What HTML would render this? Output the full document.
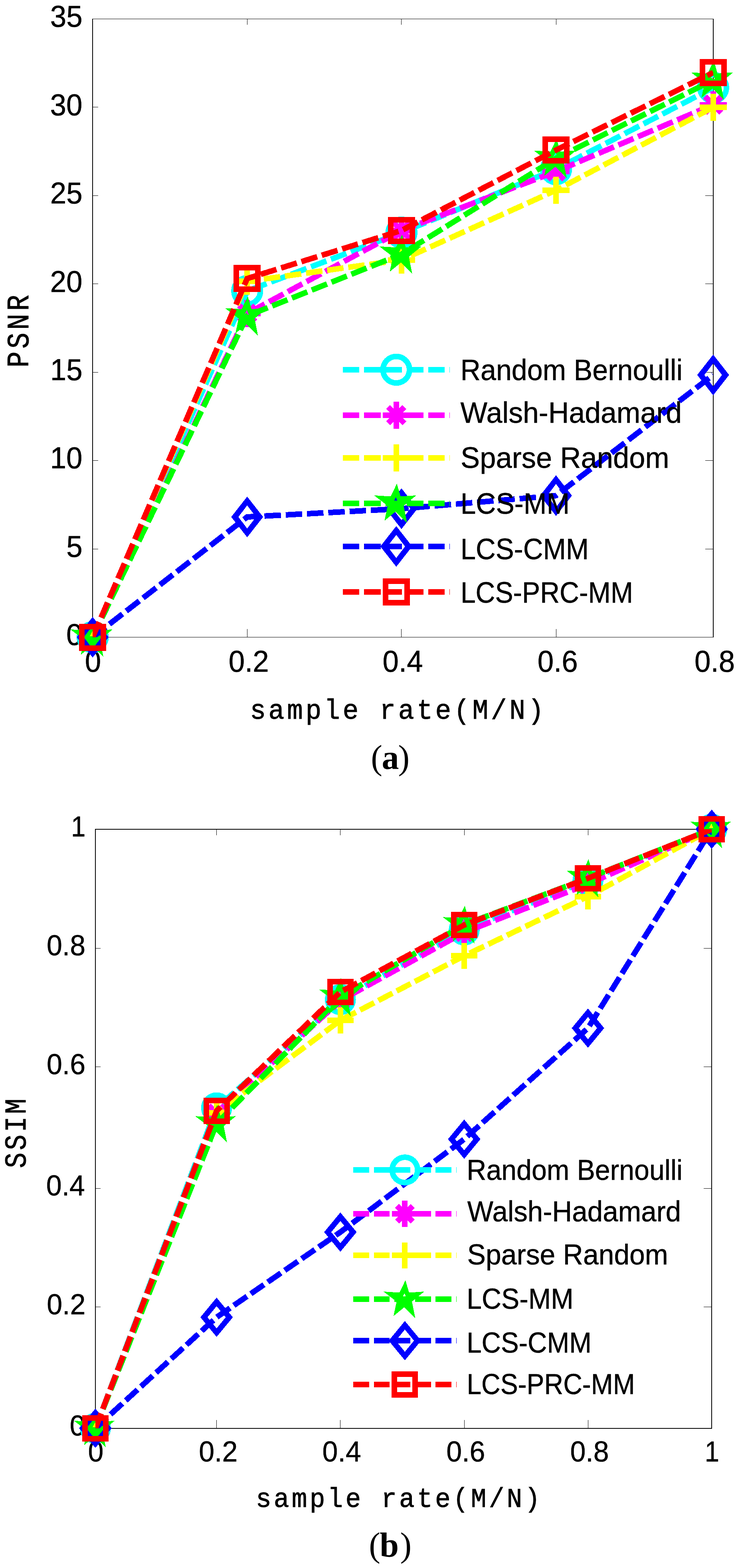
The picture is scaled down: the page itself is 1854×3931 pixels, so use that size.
<!DOCTYPE html>
<html lang="en">
<head>
<meta charset="utf-8">
<title>PSNR and SSIM versus sample rate</title>
<style>
html,body{margin:0;padding:0;background:#fff;}
body{width:1854px;height:3931px;overflow:hidden;}
svg{display:block;}
text{white-space:pre;}
</style>
</head>
<body>
<svg width="1854" height="3931" viewBox="0 0 1854 3931">
<rect width="1854" height="3931" fill="#fff"/>
<g id="plot-a">
<g stroke="#000" fill="none" shape-rendering="crispEdges">
<path d="M231 47.3H1788" stroke-width="1.5"/>
<path d="M231 1597.5H1788" stroke-width="1.5"/>
<path d="M232 47.3V1597.5" stroke-width="2"/>
<path d="M1787 47.3V1597.5" stroke-width="2"/>
<path d="M619.3 1597.5v-20.5M619.3 47.3v15M1005.9 1597.5v-20.5M1005.9 47.3v15M1393 1597.5v-20.5M1393 47.3v15M232 1376h13.6M1787 1376h-20M232 1154.5h13.6M1787 1154.5h-20M232 933h13.6M1787 933h-20M232 711.7h13.6M1787 711.7h-20M232 490.3h13.6M1787 490.3h-20M232 268.8h13.6M1787 268.8h-20" stroke-width="1"/>
</g>
<g font-family="'Liberation Sans', Arial, sans-serif" font-size="75.5" fill="#000" stroke="#000" stroke-width="0.6">
<text transform="translate(165.9 1617.3) scale(0.963 1)">0</text>
<text transform="translate(166.3 1395.8) scale(0.963 1)">5</text>
<text transform="translate(125.5 1174.3) scale(0.963 1)">10</text>
<text transform="translate(125.8 952.8) scale(0.963 1)">15</text>
<text transform="translate(125.5 731.5) scale(0.963 1)">20</text>
<text transform="translate(125.8 510.1) scale(0.963 1)">25</text>
<text transform="translate(125.5 288.6) scale(0.963 1)">30</text>
<text transform="translate(125.8 67.1) scale(0.963 1)">35</text>
<text transform="translate(212.8 1684) scale(0.963 1)">0</text>
<text transform="translate(572.7 1684) scale(0.963 1)">0.2</text>
<text transform="translate(958.6 1684) scale(0.963 1)">0.4</text>
<text transform="translate(1346.7 1684) scale(0.963 1)">0.6</text>
<text transform="translate(1740.1 1684) scale(0.963 1)">0.8</text>
</g>
<text transform="translate(71 924.9) rotate(-90) scale(0.85 1)" x="27.8 83.5 139.1 194.8" y="0" text-anchor="middle" font-family="'Liberation Mono', 'Courier New', monospace" font-size="78.6" font-weight="normal" fill="#000" stroke="#000" stroke-width="1" xml:space="preserve">PSNR</text><text transform="translate(622.9 1802) scale(0.95 1)" x="24.4 73.3 122.2 171.1 220 268.9 317.7 366.6 415.5 464.4 513.3 562.2 611.1 659.9 708.8 757.7" y="0" text-anchor="middle" font-family="'Liberation Mono', 'Courier New', monospace" font-size="70" font-weight="normal" fill="#000" stroke="#000" stroke-width="1" xml:space="preserve">sample rate(M/N)</text>
<clipPath id="clip-a"><rect x="232" y="47.3" width="1555" height="1550.2"/></clipPath>
<g fill="none" shape-rendering="crispEdges" stroke-linejoin="miter">
<path d="M232.1 1597.5L619.3 729.6L1005.9 583L1393 424.2L1786.8 220" clip-path="url(#clip-a)" stroke="#00ffff" stroke-width="14" stroke-dasharray="41.3 12.1"/>
<circle cx="232.1" cy="1597.5" r="33.2" fill="none" stroke="#00ffff" stroke-width="14"/>
<circle cx="619.3" cy="729.6" r="33.2" fill="none" stroke="#00ffff" stroke-width="14"/>
<circle cx="1005.9" cy="583" r="33.2" fill="none" stroke="#00ffff" stroke-width="14"/>
<circle cx="1393" cy="424.2" r="33.2" fill="none" stroke="#00ffff" stroke-width="14"/>
<circle cx="1786.8" cy="220" r="33.2" fill="none" stroke="#00ffff" stroke-width="14"/>
<path d="M232.1 1597.5L619.3 786L1005.9 578L1393 430L1786.8 262.5" clip-path="url(#clip-a)" stroke="#ff00ff" stroke-width="14" stroke-dasharray="41.3 12.1"/>
<path d="M198.1 1597.5H266.1M232.1 1563.5V1631.5M211.8 1577.2L252.4 1617.8M211.8 1617.8L252.4 1577.2" fill="none" stroke="#ff00ff" stroke-width="14"/>
<path d="M585.3 786H653.3M619.3 752V820M599 765.7L639.6 806.3M599 806.3L639.6 765.7" fill="none" stroke="#ff00ff" stroke-width="14"/>
<path d="M971.9 578H1039.9M1005.9 544V612M985.6 557.7L1026.2 598.3M985.6 598.3L1026.2 557.7" fill="none" stroke="#ff00ff" stroke-width="14"/>
<path d="M1359 430H1427M1393 396V464M1372.7 409.7L1413.3 450.3M1372.7 450.3L1413.3 409.7" fill="none" stroke="#ff00ff" stroke-width="14"/>
<path d="M1752.8 262.5H1820.8M1786.8 228.5V296.5M1766.5 242.2L1807.1 282.8M1766.5 282.8L1807.1 242.2" fill="none" stroke="#ff00ff" stroke-width="14"/>
<path d="M232.1 1597.5L619.3 705.4L1005.9 651.7L1393 477L1786.8 269" clip-path="url(#clip-a)" stroke="#ffff00" stroke-width="14" stroke-dasharray="41.3 12.1"/>
<path d="M198.1 1597.5H266.1M232.1 1563.5V1631.5" fill="none" stroke="#ffff00" stroke-width="14"/>
<path d="M585.3 705.4H653.3M619.3 671.4V739.4" fill="none" stroke="#ffff00" stroke-width="14"/>
<path d="M971.9 651.7H1039.9M1005.9 617.7V685.7" fill="none" stroke="#ffff00" stroke-width="14"/>
<path d="M1359 477H1427M1393 443V511" fill="none" stroke="#ffff00" stroke-width="14"/>
<path d="M1752.8 269H1820.8M1786.8 235V303" fill="none" stroke="#ffff00" stroke-width="14"/>
<path d="M232.1 1597.5L619.3 792L1005.9 637.3L1393 397L1786.8 201" clip-path="url(#clip-a)" stroke="#00ff00" stroke-width="14" stroke-dasharray="41.3 12.1"/>
<path d="M233.6 1548.5L242.9 1580.5L282.1 1578L250.6 1604L259.1 1647L230.6 1618.5L202.6 1641.5L210.6 1604L176.6 1578L218.3 1580.5ZM231.1 1582.5L225.1 1594.5L236.1 1594.5Z" fill="#00ff00" fill-rule="evenodd"/>
<path d="M620.8 743L630.1 775L669.3 772.5L637.8 798.5L646.3 841.5L617.8 813L589.8 836L597.8 798.5L563.8 772.5L605.5 775ZM618.3 777L612.3 789L623.3 789Z" fill="#00ff00" fill-rule="evenodd"/>
<path d="M1007.4 588.3L1016.7 620.3L1055.9 617.8L1024.4 643.8L1032.9 686.8L1004.4 658.3L976.4 681.3L984.4 643.8L950.4 617.8L992.1 620.3ZM1004.9 622.3L998.9 634.3L1009.9 634.3Z" fill="#00ff00" fill-rule="evenodd"/>
<path d="M1394.5 348L1403.8 380L1443 377.5L1411.5 403.5L1420 446.5L1391.5 418L1363.5 441L1371.5 403.5L1337.5 377.5L1379.2 380ZM1392 382L1386 394L1397 394Z" fill="#00ff00" fill-rule="evenodd"/>
<path d="M1788.3 152L1797.6 184L1836.8 181.5L1805.3 207.5L1813.8 250.5L1785.3 222L1757.3 245L1765.3 207.5L1731.3 181.5L1773 184ZM1785.8 186L1779.8 198L1790.8 198Z" fill="#00ff00" fill-rule="evenodd"/>
<path d="M232.1 1597.5L619.3 1296L1005.9 1275.3L1393 1242.5L1786.8 940" clip-path="url(#clip-a)" stroke="#0000ff" stroke-width="14" stroke-dasharray="41.3 12.1"/>
<path d="M232.1 1546.5L272.1 1597.5L232.1 1648.5L192.1 1597.5ZM232.1 1568.5L210.1 1597.5L232.1 1626.5L254.1 1597.5Z" fill="#0000ff" fill-rule="evenodd"/>
<path d="M619.3 1245L659.3 1296L619.3 1347L579.3 1296ZM619.3 1267L597.3 1296L619.3 1325L641.3 1296Z" fill="#0000ff" fill-rule="evenodd"/>
<path d="M1005.9 1224.3L1045.9 1275.3L1005.9 1326.3L965.9 1275.3ZM1005.9 1246.3L983.9 1275.3L1005.9 1304.3L1027.9 1275.3Z" fill="#0000ff" fill-rule="evenodd"/>
<path d="M1393 1191.5L1433 1242.5L1393 1293.5L1353 1242.5ZM1393 1213.5L1371 1242.5L1393 1271.5L1415 1242.5Z" fill="#0000ff" fill-rule="evenodd"/>
<path d="M1786.8 889L1826.8 940L1786.8 991L1746.8 940ZM1786.8 911L1764.8 940L1786.8 969L1808.8 940Z" fill="#0000ff" fill-rule="evenodd"/>
<path d="M232.1 1597.5L619.3 698.3L1005.9 577.8L1393 376.3L1786.8 181.9" clip-path="url(#clip-a)" stroke="#ff0000" stroke-width="14" stroke-dasharray="41.3 12.1"/>
<rect x="205.1" y="1570.5" width="54" height="54" fill="none" stroke="#ff0000" stroke-width="14"/>
<rect x="592.3" y="671.3" width="54" height="54" fill="none" stroke="#ff0000" stroke-width="14"/>
<rect x="978.9" y="550.8" width="54" height="54" fill="none" stroke="#ff0000" stroke-width="14"/>
<rect x="1366" y="349.3" width="54" height="54" fill="none" stroke="#ff0000" stroke-width="14"/>
<rect x="1759.8" y="154.9" width="54" height="54" fill="none" stroke="#ff0000" stroke-width="14"/>
</g>
<g fill="none" shape-rendering="crispEdges">
<path d="M859 926.9H1127" stroke="#00ffff" stroke-width="14" stroke-dasharray="41.3 12.1"/>
<circle cx="992.8" cy="926.9" r="33.2" fill="none" stroke="#00ffff" stroke-width="14"/>
<path d="M859 1040.7H1127" stroke="#ff00ff" stroke-width="14" stroke-dasharray="41.3 12.1"/>
<path d="M958.8 1040.7H1026.8M992.8 1006.7V1074.7M972.5 1020.4L1013.1 1061M972.5 1061L1013.1 1020.4" fill="none" stroke="#ff00ff" stroke-width="14"/>
<path d="M859 1147.9H1127" stroke="#ffff00" stroke-width="14" stroke-dasharray="41.3 12.1"/>
<path d="M958.8 1147.9H1026.8M992.8 1113.9V1181.9" fill="none" stroke="#ffff00" stroke-width="14"/>
<path d="M859 1261.5H1127" stroke="#00ff00" stroke-width="14" stroke-dasharray="41.3 12.1"/>
<path d="M994.3 1212.5L1003.6 1244.5L1042.8 1242L1011.3 1268L1019.8 1311L991.3 1282.5L963.3 1305.5L971.3 1268L937.3 1242L979 1244.5ZM991.8 1246.5L985.8 1258.5L996.8 1258.5Z" fill="#00ff00" fill-rule="evenodd"/>
<path d="M859 1369.9H1127" stroke="#0000ff" stroke-width="14" stroke-dasharray="41.3 12.1"/>
<path d="M992.8 1318.9L1032.8 1369.9L992.8 1420.9L952.8 1369.9ZM992.8 1340.9L970.8 1369.9L992.8 1398.9L1014.8 1369.9Z" fill="#0000ff" fill-rule="evenodd"/>
<path d="M859 1484H1127" stroke="#ff0000" stroke-width="14" stroke-dasharray="41.3 12.1"/>
<rect x="965.8" y="1457" width="54" height="54" fill="none" stroke="#ff0000" stroke-width="14"/>
</g>
<g font-family="'Liberation Sans', Arial, sans-serif" font-size="75" fill="#000" stroke="#000" stroke-width="0.6">
<text transform="translate(1153.4 952.8) scale(0.9338 1)">Random Bernoulli</text>
<text transform="translate(1153.6 1059.8) scale(0.9548 1)">Walsh-Hadamard</text>
<text transform="translate(1154 1173.1) scale(0.9647 1)">Sparse Random</text>
<text transform="translate(1153.7 1287.9) scale(0.9251 1)">LCS-MM</text>
<text transform="translate(1153.8 1402.2) scale(0.9186 1)">LCS-CMM</text>
<text transform="translate(1153.9 1511.1) scale(0.9024 1)">LCS-PRC-MM</text>
</g>
</g>
<g id="plot-b">
<g stroke="#000" fill="none" shape-rendering="crispEdges">
<path d="M238 2078.8H1784.2" stroke-width="2"/>
<path d="M238 3580.7H1784.2" stroke-width="2"/>
<path d="M239 2078.8V3580.7" stroke-width="2"/>
<path d="M1783.2 2078.8V3580.7" stroke-width="2"/>
<path d="M542.7 3580.7v-20.5M542.7 2078.8v15M852.8 3580.7v-20.5M852.8 2078.8v15M1163 3580.7v-20.5M1163 2078.8v15M1473.1 3580.7v-20.5M1473.1 2078.8v15M239 3276.5h13M1783.2 3276.5h-20M239 2979h13M1783.2 2979h-20M239 2674.9h13M1783.2 2674.9h-20M239 2377h13M1783.2 2377h-20" stroke-width="1"/>
</g>
<g font-family="'Liberation Sans', Arial, sans-serif" font-size="72.6" fill="#000" stroke="#000" stroke-width="0.6">
<text transform="translate(174.8 3598.9) scale(0.963 1)">0</text>
<text transform="translate(117.2 3294.7) scale(0.963 1)">0.2</text>
<text transform="translate(115.8 2997.2) scale(0.963 1)">0.4</text>
<text transform="translate(116.9 2693.1) scale(0.963 1)">0.6</text>
<text transform="translate(116.9 2395.2) scale(0.963 1)">0.8</text>
<text transform="translate(177.9 2097) scale(0.9 1)">1</text>
<text transform="translate(220.6 3664) scale(0.963 1)">0</text>
<text transform="translate(498.2 3664) scale(0.963 1)">0.2</text>
<text transform="translate(807.6 3664) scale(0.963 1)">0.4</text>
<text transform="translate(1118.3 3664) scale(0.963 1)">0.6</text>
<text transform="translate(1428.4 3664) scale(0.963 1)">0.8</text>
<text transform="translate(1765.8 3664) scale(0.9 1)">1</text>
</g>
<text transform="translate(64.2 2931.7) rotate(-90) scale(0.85 1)" x="26.6 79.8 132.9 186.1" y="0" text-anchor="middle" font-family="'Liberation Mono', 'Courier New', monospace" font-size="76.5" font-weight="normal" fill="#000" stroke="#000" stroke-width="1" xml:space="preserve">SSIM</text><text transform="translate(637.9 3778) scale(0.95 1)" x="23.6 70.9 118.2 165.4 212.7 259.9 307.2 354.5 401.7 449 496.3 543.5 590.8 638.1 685.3 732.6" y="0" text-anchor="middle" font-family="'Liberation Mono', 'Courier New', monospace" font-size="68" font-weight="normal" fill="#000" stroke="#000" stroke-width="1" xml:space="preserve">sample rate(M/N)</text>
<clipPath id="clip-b"><rect x="239" y="2078.8" width="1544.2" height="1501.9"/></clipPath>
<g fill="none" shape-rendering="crispEdges" stroke-linejoin="miter">
<path d="M239 3580.7L542.7 2777.4L852.8 2506L1163 2331.5L1473.1 2207L1783.2 2078.8" clip-path="url(#clip-b)" stroke="#00ffff" stroke-width="14" stroke-dasharray="39.9 11.7"/>
<circle cx="239" cy="3580.7" r="31.8" fill="none" stroke="#00ffff" stroke-width="14"/>
<circle cx="542.7" cy="2777.4" r="31.8" fill="none" stroke="#00ffff" stroke-width="14"/>
<circle cx="852.8" cy="2506" r="31.8" fill="none" stroke="#00ffff" stroke-width="14"/>
<circle cx="1163" cy="2331.5" r="31.8" fill="none" stroke="#00ffff" stroke-width="14"/>
<circle cx="1473.1" cy="2207" r="31.8" fill="none" stroke="#00ffff" stroke-width="14"/>
<circle cx="1783.2" cy="2078.8" r="31.8" fill="none" stroke="#00ffff" stroke-width="14"/>
<path d="M239 3580.7L542.7 2790.8L852.8 2508.5L1163 2337.5L1473.1 2216.5L1783.2 2078.8" clip-path="url(#clip-b)" stroke="#ff00ff" stroke-width="14" stroke-dasharray="39.9 11.7"/>
<path d="M206.2 3580.7H271.8M239 3547.9V3613.5M219.4 3561.1L258.6 3600.3M219.4 3600.3L258.6 3561.1" fill="none" stroke="#ff00ff" stroke-width="14"/>
<path d="M509.9 2790.8H575.5M542.7 2758V2823.6M523.1 2771.2L562.3 2810.4M523.1 2810.4L562.3 2771.2" fill="none" stroke="#ff00ff" stroke-width="14"/>
<path d="M820 2508.5H885.6M852.8 2475.7V2541.3M833.2 2488.9L872.4 2528.1M833.2 2528.1L872.4 2488.9" fill="none" stroke="#ff00ff" stroke-width="14"/>
<path d="M1130.2 2337.5H1195.8M1163 2304.7V2370.3M1143.4 2317.9L1182.6 2357.1M1143.4 2357.1L1182.6 2317.9" fill="none" stroke="#ff00ff" stroke-width="14"/>
<path d="M1440.3 2216.5H1505.9M1473.1 2183.7V2249.3M1453.5 2196.9L1492.7 2236.1M1453.5 2236.1L1492.7 2196.9" fill="none" stroke="#ff00ff" stroke-width="14"/>
<path d="M1750.4 2078.8H1816M1783.2 2046V2111.6M1763.6 2059.2L1802.8 2098.4M1763.6 2098.4L1802.8 2059.2" fill="none" stroke="#ff00ff" stroke-width="14"/>
<path d="M239 3580.7L542.7 2790L852.8 2558L1163 2396.3L1473.1 2247.5L1783.2 2078.8" clip-path="url(#clip-b)" stroke="#ffff00" stroke-width="14" stroke-dasharray="39.9 11.7"/>
<path d="M206.2 3580.7H271.8M239 3547.9V3613.5" fill="none" stroke="#ffff00" stroke-width="14"/>
<path d="M509.9 2790H575.5M542.7 2757.2V2822.8" fill="none" stroke="#ffff00" stroke-width="14"/>
<path d="M820 2558H885.6M852.8 2525.2V2590.8" fill="none" stroke="#ffff00" stroke-width="14"/>
<path d="M1130.2 2396.3H1195.8M1163 2363.5V2429.1" fill="none" stroke="#ffff00" stroke-width="14"/>
<path d="M1440.3 2247.5H1505.9M1473.1 2214.7V2280.3" fill="none" stroke="#ffff00" stroke-width="14"/>
<path d="M1750.4 2078.8H1816M1783.2 2046V2111.6" fill="none" stroke="#ffff00" stroke-width="14"/>
<path d="M239 3580.7L542.7 2817L852.8 2499.3L1163 2318L1473.1 2201.5L1783.2 2078.8" clip-path="url(#clip-b)" stroke="#00ff00" stroke-width="14" stroke-dasharray="39.9 11.7"/>
<path d="M240.4 3533.4L249.5 3564.3L287.3 3561.9L256.8 3587L265.1 3628.5L237.6 3601L210.5 3623.2L218.3 3587L185.4 3561.9L225.6 3564.3ZM238 3566.2L232.2 3577.8L242.9 3577.8Z" fill="#00ff00" fill-rule="evenodd"/>
<path d="M544.1 2769.7L553.2 2800.6L591 2798.2L560.5 2823.3L568.8 2864.8L541.3 2837.3L514.2 2859.5L522 2823.3L489.1 2798.2L529.3 2800.6ZM541.7 2802.5L535.9 2814.1L546.6 2814.1Z" fill="#00ff00" fill-rule="evenodd"/>
<path d="M854.2 2452L863.3 2482.9L901.1 2480.5L870.6 2505.6L878.9 2547.1L851.4 2519.6L824.3 2541.8L832.1 2505.6L799.2 2480.5L839.4 2482.9ZM851.8 2484.8L846 2496.4L856.7 2496.4Z" fill="#00ff00" fill-rule="evenodd"/>
<path d="M1164.4 2270.7L1173.5 2301.6L1211.3 2299.2L1180.8 2324.3L1189.1 2365.8L1161.6 2338.3L1134.5 2360.5L1142.3 2324.3L1109.4 2299.2L1149.6 2301.6ZM1162 2303.5L1156.2 2315.1L1166.9 2315.1Z" fill="#00ff00" fill-rule="evenodd"/>
<path d="M1474.5 2154.2L1483.6 2185.1L1521.4 2182.7L1490.9 2207.8L1499.2 2249.3L1471.7 2221.8L1444.6 2244L1452.4 2207.8L1419.5 2182.7L1459.7 2185.1ZM1472.1 2187L1466.3 2198.6L1477 2198.6Z" fill="#00ff00" fill-rule="evenodd"/>
<path d="M1784.6 2031.5L1793.7 2062.4L1831.5 2060L1801 2085.1L1809.3 2126.6L1781.8 2099.1L1754.7 2121.3L1762.5 2085.1L1729.6 2060L1769.8 2062.4ZM1782.2 2064.3L1776.4 2075.9L1787.1 2075.9Z" fill="#00ff00" fill-rule="evenodd"/>
<path d="M239 3580.7L542.7 3302.4L852.8 3088.9L1163 2855.9L1473.1 2577.5L1783.2 2078.8" clip-path="url(#clip-b)" stroke="#0000ff" stroke-width="14" stroke-dasharray="39.9 11.7"/>
<path d="M239 3531.4L279.7 3580.7L239 3630L198.3 3580.7ZM239 3552.9L216.2 3580.7L239 3608.5L261.8 3580.7Z" fill="#0000ff" fill-rule="evenodd"/>
<path d="M542.7 3253.1L583.4 3302.4L542.7 3351.7L502 3302.4ZM542.7 3274.6L519.9 3302.4L542.7 3330.2L565.5 3302.4Z" fill="#0000ff" fill-rule="evenodd"/>
<path d="M852.8 3039.6L893.5 3088.9L852.8 3138.2L812.1 3088.9ZM852.8 3061.1L830 3088.9L852.8 3116.7L875.6 3088.9Z" fill="#0000ff" fill-rule="evenodd"/>
<path d="M1163 2806.6L1203.7 2855.9L1163 2905.2L1122.3 2855.9ZM1163 2828.1L1140.2 2855.9L1163 2883.7L1185.8 2855.9Z" fill="#0000ff" fill-rule="evenodd"/>
<path d="M1473.1 2528.2L1513.8 2577.5L1473.1 2626.8L1432.4 2577.5ZM1473.1 2549.7L1450.3 2577.5L1473.1 2605.3L1495.9 2577.5Z" fill="#0000ff" fill-rule="evenodd"/>
<path d="M1783.2 2029.5L1823.9 2078.8L1783.2 2128.1L1742.5 2078.8ZM1783.2 2051L1760.4 2078.8L1783.2 2106.6L1806 2078.8Z" fill="#0000ff" fill-rule="evenodd"/>
<path d="M239 3580.7L542.7 2785.1L852.8 2487L1163 2319L1473.1 2201.9L1783.2 2078.8" clip-path="url(#clip-b)" stroke="#ff0000" stroke-width="14" stroke-dasharray="39.9 11.7"/>
<rect x="213" y="3554.7" width="52" height="52" fill="none" stroke="#ff0000" stroke-width="14"/>
<rect x="516.7" y="2759.1" width="52" height="52" fill="none" stroke="#ff0000" stroke-width="14"/>
<rect x="826.8" y="2461" width="52" height="52" fill="none" stroke="#ff0000" stroke-width="14"/>
<rect x="1137" y="2293" width="52" height="52" fill="none" stroke="#ff0000" stroke-width="14"/>
<rect x="1447.1" y="2175.9" width="52" height="52" fill="none" stroke="#ff0000" stroke-width="14"/>
<rect x="1757.2" y="2052.8" width="52" height="52" fill="none" stroke="#ff0000" stroke-width="14"/>
</g>
<g fill="none" shape-rendering="crispEdges">
<path d="M884.9 2933H1144.2" stroke="#00ffff" stroke-width="14" stroke-dasharray="39.9 11.7"/>
<circle cx="1014.4" cy="2933" r="31.8" fill="none" stroke="#00ffff" stroke-width="14"/>
<path d="M884.9 3042.8H1144.2" stroke="#ff00ff" stroke-width="14" stroke-dasharray="39.9 11.7"/>
<path d="M981.6 3042.8H1047.2M1014.4 3010V3075.6M994.8 3023.2L1034 3062.4M994.8 3062.4L1034 3023.2" fill="none" stroke="#ff00ff" stroke-width="14"/>
<path d="M884.9 3147.3H1144.2" stroke="#ffff00" stroke-width="14" stroke-dasharray="39.9 11.7"/>
<path d="M981.6 3147.3H1047.2M1014.4 3114.5V3180.1" fill="none" stroke="#ffff00" stroke-width="14"/>
<path d="M884.9 3256.9H1144.2" stroke="#00ff00" stroke-width="14" stroke-dasharray="39.9 11.7"/>
<path d="M1015.8 3209.6L1024.9 3240.5L1062.7 3238.1L1032.2 3263.2L1040.5 3304.7L1013 3277.2L985.9 3299.4L993.7 3263.2L960.8 3238.1L1001 3240.5ZM1013.4 3242.4L1007.6 3254L1018.3 3254Z" fill="#00ff00" fill-rule="evenodd"/>
<path d="M884.9 3361.1H1144.2" stroke="#0000ff" stroke-width="14" stroke-dasharray="39.9 11.7"/>
<path d="M1014.4 3311.8L1055.1 3361.1L1014.4 3410.4L973.7 3361.1ZM1014.4 3333.3L991.6 3361.1L1014.4 3388.9L1037.2 3361.1Z" fill="#0000ff" fill-rule="evenodd"/>
<path d="M884.9 3471H1144.2" stroke="#ff0000" stroke-width="14" stroke-dasharray="39.9 11.7"/>
<rect x="988.4" y="3445" width="52" height="52" fill="none" stroke="#ff0000" stroke-width="14"/>
</g>
<g font-family="'Liberation Sans', Arial, sans-serif" font-size="72" fill="#000" stroke="#000" stroke-width="0.6">
<text transform="translate(1169.3 2958) scale(0.9451 1)">Random Bernoulli</text>
<text transform="translate(1170.7 3061.7) scale(0.9608 1)">Walsh-Hadamard</text>
<text transform="translate(1170.6 3170.4) scale(0.9674 1)">Sparse Random</text>
<text transform="translate(1169.3 3281.2) scale(0.942 1)">LCS-MM</text>
<text transform="translate(1169.3 3391.4) scale(0.931 1)">LCS-CMM</text>
<text transform="translate(1169.4 3494.6) scale(0.9159 1)">LCS-PRC-MM</text>
</g>
</g>
<g font-family="'Liberation Serif', 'Times New Roman', serif" font-size="86" fill="#000"><text x="929.3 956.4 997.6" y="1928">(<tspan font-weight="bold">a</tspan>)</text><text x="924.3 951.2 1002.5" y="3901.5">(<tspan font-weight="bold">b</tspan>)</text></g>
</svg>
</body>
</html>
